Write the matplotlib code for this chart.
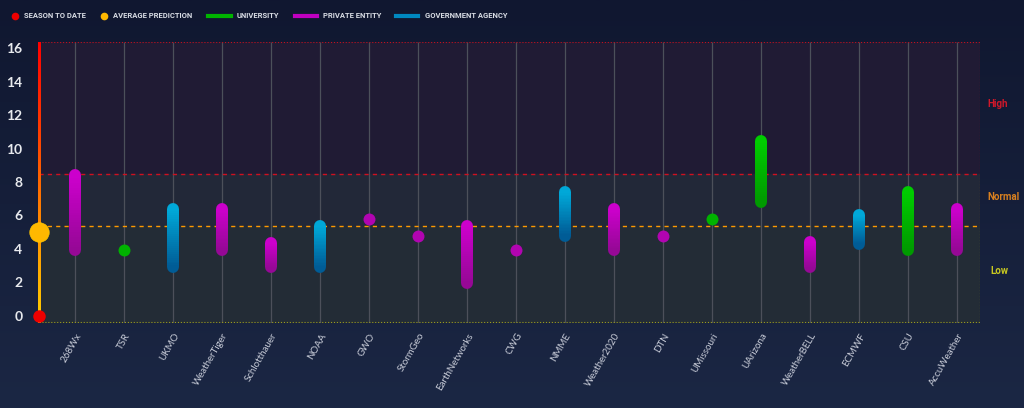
import numpy as np
import matplotlib
matplotlib.use('Agg')
import matplotlib.pyplot as plt
from matplotlib.colors import LinearSegmentedColormap, to_rgb
from matplotlib.lines import Line2D
from matplotlib.transforms import ScaledTranslation

# forecast sources and their predicted ranges
sources = ['268Wx', 'TSR', 'UKMO', 'WeatherTiger', 'Schlotthauer', 'NOAA', 'GWO',
           'StormGeo', 'EarthNetworks', 'CWG', 'NMME', 'Weather2020', 'DTN',
           'UMissouri', 'UArizona', 'WeatherBELL', 'ECMWF', 'CSU', 'AccuWeather']
kind = ['P', 'U', 'G', 'P', 'P', 'G', 'P', 'P', 'P', 'P', 'G', 'P', 'P',
        'U', 'U', 'P', 'G', 'U', 'P']
low = [3.95, 3.95, 2.9, 3.95, 2.9, 2.9, 5.8, 4.8, 1.95, 3.95, 4.8, 3.95, 4.8,
       5.8, 6.8, 2.9, 4.3, 3.95, 3.95]
high = [8.4, 3.95, 6.4, 6.4, 4.35, 5.4, 5.8, 4.8, 5.4, 3.95, 7.4, 6.4, 4.8,
        5.8, 10.45, 4.4, 6.05, 7.4, 6.4]

season_to_date = 0
avg_prediction = 5
avg_line = 5.35
high_threshold = 8.5
y_ticks = [0, 2, 4, 6, 8, 10, 12, 14, 16]

# gradient colours (top, bottom) for each source type
kind_colors = {'U': ('#00cc00', '#009a00'),
               'P': ('#cc00cc', '#960896'),
               'G': ('#00a8d8', '#005c96')}

W, H = 1024, 408
fig = plt.figure(figsize=(W / 100, H / 100), dpi=100)

# background gradient
bg = fig.add_axes([0, 0, 1, 1], zorder=-10)
bg_cmap = LinearSegmentedColormap.from_list('bg', ['#101730', '#1b2744'])
bg.imshow(np.linspace(0, 1, 256).reshape(-1, 1), aspect='auto', cmap=bg_cmap,
          extent=[0, 1, 0, 1])
bg.axis('off')

x_left, x_right = 39, 980
y_top, y_bot = 42, 323
ax = fig.add_axes([x_left / W, 1 - y_bot / H, (x_right - x_left) / W, (y_bot - y_top) / H])
ax.patch.set_alpha(0)
ymin, ymax = -0.42, 16.36
xmin, xmax = -0.735, 18.47
ax.set_ylim(ymin, ymax)
ax.set_xlim(xmin, xmax)

# bands
ax.axhspan(high_threshold, ymax, color='#201b34', zorder=0)
ax.axhspan(avg_line, high_threshold, color='#222838', zorder=0)
ax.axhspan(ymin, avg_line, color='#232c36', zorder=0)

x = np.arange(len(sources))
ax.vlines(x, ymin, ymax, color='#4c505a', lw=0.9, zorder=1)

# band borders
ax.plot([xmin, xmax], [ymax - 0.02, ymax - 0.02], color='#c0101e', lw=0.8, ls=':', zorder=2)
ax.plot([xmax - 0.01] * 2, [high_threshold, ymax], color='#c0101e', lw=0.8, ls=':', zorder=2)
ax.plot([xmax - 0.01] * 2, [avg_line, high_threshold], color='#b06a10', lw=0.8, ls=':', zorder=2)
ax.plot([xmax - 0.01] * 2, [ymin, avg_line], color='#9a9a20', lw=0.8, ls=':', zorder=2)
ax.plot([xmin, xmax], [ymin + 0.03, ymin + 0.03], color='#9a9a20', lw=0.8, ls=':', zorder=2)
ax.axhline(high_threshold, color='#d01020', lw=1.0, ls=(0, (3, 3)), zorder=2)
ax.axhline(avg_line, color='#ff9900', lw=1.0, ls=(0, (3, 3)), zorder=2)

# left axis gradient line (thin strip axes)
axis_cmap = LinearSegmentedColormap.from_list('ax', ['#ffd000', '#ff9000', '#ff4000', '#ff0000'])
strip = fig.add_axes([(x_left - 1.5) / W, 1 - y_bot / H, 3 / W, (y_bot - y_top) / H], zorder=3)
strip.imshow(np.linspace(0, 1, 256).reshape(-1, 1), aspect='auto', cmap=axis_cmap,
             origin='lower', extent=[0, 1, 0, 1])
strip.axis('off')

bar_lw = 8.6


def draw_range(xi, lo, hi, ctop, cbot):
    if hi - lo < 0.05:
        mix = tuple((np.array(to_rgb(ctop)) + np.array(to_rgb(cbot))) / 2)
        ax.plot([xi], [lo], 'o', ms=bar_lw, color=mix, mec='none', zorder=5)
        return
    mid = (lo + hi) / 2
    ax.plot([xi, xi], [mid, hi], color=ctop, lw=bar_lw, solid_capstyle='round', zorder=4)
    ax.plot([xi, xi], [lo, mid], color=cbot, lw=bar_lw, solid_capstyle='round', zorder=4)
    cm = LinearSegmentedColormap.from_list('g', [cbot, ctop])
    seg = np.linspace(lo, hi, 31)
    for j in range(len(seg) - 1):
        ax.plot([xi, xi], [seg[j], seg[j + 1]], color=cm(j / (len(seg) - 2)), lw=bar_lw,
                solid_capstyle='butt', zorder=5)


for xi, k, lo, hi in zip(x, kind, low, high):
    ctop, cbot = kind_colors[k]
    draw_range(xi, lo, hi, ctop, cbot)

# season to date and average prediction markers (drawn over the axis strip)
mk = fig.add_axes(ax.get_position(), zorder=4)
mk.set_xlim(xmin, xmax)
mk.set_ylim(ymin, ymax)
mk.axis('off')
mk.plot([xmin], [season_to_date], 'o', ms=9, color='#ee0000', mec='none', clip_on=False)
mk.plot([xmin], [avg_prediction], 'o', ms=14, color='#ffb800', mec='#ffc800', mew=0.5,
        clip_on=False)

# ticks
ax.set_yticks(y_ticks)
ax.set_yticklabels([str(v) for v in y_ticks], color='#e8eaee', fontsize=10,
                   fontweight='bold', family='Lato')
ax.set_xticks(x)
ax.set_xticklabels(sources, rotation=60, ha='right', va='top', rotation_mode='anchor',
                   color='#c8ccd8', fontsize=7, family='Lato')
offset = ScaledTranslation(8 / 100, 0, fig.dpi_scale_trans)
for lab in ax.get_xticklabels():
    lab.set_transform(lab.get_transform() + offset)
ax.tick_params(axis='both', length=0)
ax.tick_params(axis='y', pad=12)
ax.tick_params(axis='x', pad=6)
for s in ax.spines.values():
    s.set_visible(False)

# band labels on the right
fig.text(998 / W, 1 - 104 / H, 'High', color='#d0182a', fontsize=7, ha='center', va='center',
         family='Roboto', fontweight='bold')
fig.text(1003 / W, 1 - 197 / H, 'Normal', color='#d88020', fontsize=7, ha='center', va='center',
         family='Roboto', fontweight='bold')
fig.text(999 / W, 1 - 271 / H, 'Low', color='#c8c820', fontsize=7, ha='center', va='center',
         family='Roboto', fontweight='bold')

# legend
ly = 1 - 16 / H
fig.add_artist(Line2D([15 / W], [ly], marker='o', ms=5.5, color='#ee0000', mec='none', ls='none'))
fig.add_artist(Line2D([104 / W], [ly], marker='o', ms=5.5, color='#ffb800', mec='none', ls='none'))
fig.add_artist(Line2D([208 / W, 231 / W], [ly, ly], color='#00b400', lw=3))
fig.add_artist(Line2D([295 / W, 317 / W], [ly, ly], color='#c000c0', lw=3))
fig.add_artist(Line2D([396 / W, 418 / W], [ly, ly], color='#0088c0', lw=3))
for tx, label in [(24, 'SEASON TO DATE'), (113, 'AVERAGE PREDICTION'), (237, 'UNIVERSITY'),
                  (323, 'PRIVATE ENTITY'), (425, 'GOVERNMENT AGENCY')]:
    fig.text(tx / W, ly, label, color='#d8dce4', fontsize=5.5, fontweight='bold',
             family='Roboto', va='center', ha='left')

fig.savefig('out.png', dpi=100)
